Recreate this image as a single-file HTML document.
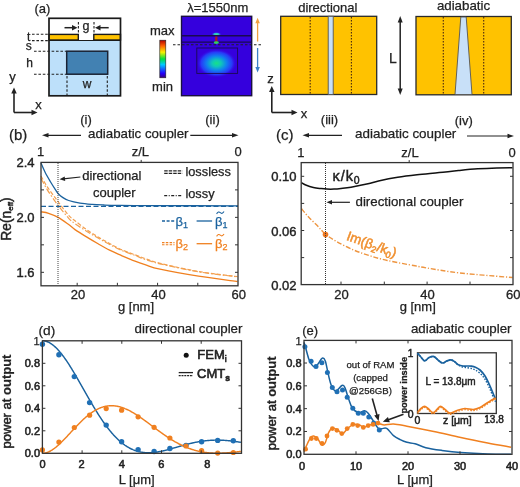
<!DOCTYPE html>
<html><head><meta charset="utf-8"><style>
html,body{margin:0;padding:0;background:#fff;overflow:hidden;width:520px;height:487px;}
svg{display:block;font-family:"Liberation Sans",sans-serif;will-change:transform;}
</style></head><body>
<svg width="520" height="487" viewBox="0 0 520 487">
<rect width="520" height="487" fill="#fff"/>
<text x="34.5" y="12.5" font-size="13" text-anchor="start" fill="#222" stroke="#222" stroke-width="0.25" font-weight="normal" >(a)</text>
<rect x="49" y="18.3" width="71.5" height="77.5" fill="#fff" stroke="none"/>
<rect x="49" y="40.5" width="71.5" height="55.3" fill="#bde0fa"/>
<rect x="49" y="34.4" width="29.3" height="5.6" fill="#ffc200" stroke="#1a1a1a" stroke-width="1.4"/>
<rect x="93.8" y="34.4" width="26.7" height="5.6" fill="#ffc200" stroke="#1a1a1a" stroke-width="1.4"/>
<line x1="49" y1="40.5" x2="120.5" y2="40.5" stroke="#1a1a1a" stroke-width="1.2" />
<rect x="66.7" y="51.2" width="41" height="23" fill="#4281b2" stroke="#1a2233" stroke-width="1.5"/>
<rect x="49" y="18.3" width="71.5" height="77.5" fill="none" stroke="#1a1a1a" stroke-width="1.7"/>
<line x1="32" y1="34.2" x2="48" y2="34.2" stroke="#222" stroke-width="1.1" stroke-dasharray="2.6,1.8"/>
<line x1="32" y1="40.6" x2="48" y2="40.6" stroke="#222" stroke-width="1.1" stroke-dasharray="2.6,1.8"/>
<line x1="34" y1="51.3" x2="66" y2="51.3" stroke="#222" stroke-width="1.1" stroke-dasharray="2.6,1.8"/>
<line x1="34" y1="74.2" x2="66" y2="74.2" stroke="#222" stroke-width="1.1" stroke-dasharray="2.6,1.8"/>
<line x1="67" y1="76" x2="67" y2="95" stroke="#222" stroke-width="1.1" stroke-dasharray="2.6,1.8"/>
<line x1="107.3" y1="76" x2="107.3" y2="95" stroke="#222" stroke-width="1.1" stroke-dasharray="2.6,1.8"/>
<line x1="78.4" y1="22" x2="78.4" y2="33.5" stroke="#222" stroke-width="1.1" stroke-dasharray="2.5,1.5"/>
<line x1="94.0" y1="22" x2="94.0" y2="33.5" stroke="#222" stroke-width="1.1" stroke-dasharray="2.5,1.5"/>
<line x1="64.5" y1="27.7" x2="73.65" y2="27.7" stroke="#222" stroke-width="1.5" />
<polygon points="77.50,27.70 72.00,30.45 72.00,24.95" fill="#222"/>
<line x1="108.7" y1="27.7" x2="98.85" y2="27.7" stroke="#222" stroke-width="1.5" />
<polygon points="95.00,27.70 100.50,24.95 100.50,30.45" fill="#222"/>
<text x="85.9" y="30.2" font-size="12.5" text-anchor="middle" fill="#222" stroke="#222" stroke-width="0.25" font-weight="normal" >g</text>
<text x="28.6" y="40.8" font-size="12" text-anchor="middle" fill="#222" stroke="#222" stroke-width="0.25" font-weight="normal" >t</text>
<text x="28.8" y="50.2" font-size="12" text-anchor="middle" fill="#222" stroke="#222" stroke-width="0.25" font-weight="normal" >s</text>
<text x="29.5" y="66.8" font-size="12" text-anchor="middle" fill="#222" stroke="#222" stroke-width="0.25" font-weight="normal" >h</text>
<text x="87" y="87.5" font-size="12" text-anchor="middle" fill="#222" stroke="#222" stroke-width="0.25" font-weight="normal" >w</text>
<line x1="14" y1="112.5" x2="14.0" y2="91.7" stroke="#222" stroke-width="1.6" />
<polygon points="14.00,87.50 16.75,93.50 11.25,93.50" fill="#222"/>
<line x1="14" y1="112.5" x2="33.3" y2="112.5" stroke="#222" stroke-width="1.6" />
<polygon points="37.50,112.50 31.50,115.25 31.50,109.75" fill="#222"/>
<text x="12.5" y="81" font-size="13" text-anchor="middle" fill="#222" stroke="#222" stroke-width="0.25" font-weight="normal" >y</text>
<text x="38.5" y="108.5" font-size="13" text-anchor="middle" fill="#222" stroke="#222" stroke-width="0.25" font-weight="normal" >x</text>
<defs>
<linearGradient id="jet" x1="0" y1="1" x2="0" y2="0">
<stop offset="0" stop-color="#3a007a"/>
<stop offset="0.12" stop-color="#2200ff"/>
<stop offset="0.35" stop-color="#00c8ff"/>
<stop offset="0.5" stop-color="#00e040"/>
<stop offset="0.68" stop-color="#f8f000"/>
<stop offset="0.85" stop-color="#ff6000"/>
<stop offset="1" stop-color="#b00000"/>
</linearGradient>
<radialGradient id="glow" cx="0.5" cy="0.5" r="0.5">
<stop offset="0" stop-color="#18e088"/>
<stop offset="0.22" stop-color="#10c8b8"/>
<stop offset="0.5" stop-color="#1080f0"/>
<stop offset="0.78" stop-color="#2838f8"/>
<stop offset="1" stop-color="#3500dd" stop-opacity="0"/>
</radialGradient>
<radialGradient id="glow2" cx="0.5" cy="0.5" r="0.5">
<stop offset="0" stop-color="#50f080"/>
<stop offset="0.5" stop-color="#20b0e0"/>
<stop offset="1" stop-color="#3a1ee0" stop-opacity="0"/>
</radialGradient>
</defs>
<rect x="181.5" y="16.3" width="70.2" height="79.4" fill="#3500dd" stroke="#1a1040" stroke-width="1.4"/>
<ellipse cx="216.6" cy="63.3" rx="20" ry="14.5" fill="url(#glow)"/>
<ellipse cx="216.4" cy="34.3" rx="5" ry="2.3" fill="url(#glow2)"/>
<line x1="181.5" y1="35.8" x2="251.7" y2="35.8" stroke="#1a0a50" stroke-width="1.5" />
<line x1="181.5" y1="42.2" x2="251.7" y2="42.2" stroke="#1a0a50" stroke-width="1.3" />
<rect x="196.8" y="48" width="40.8" height="25.4" fill="none" stroke="#1a0a50" stroke-width="0.9"/>
<rect x="215.2" y="36.6" width="2.2" height="5.4" fill="#b01818"/>
<ellipse cx="216.3" cy="42.6" rx="2.6" ry="1.3" fill="#30d060"/>
<line x1="173" y1="44.8" x2="262" y2="44.8" stroke="#222" stroke-width="1.1" stroke-dasharray="2.5,2"/>
<rect x="159.8" y="40.2" width="6" height="37.6" fill="url(#jet)" stroke="#222" stroke-width="0.6"/>
<text x="162.2" y="34.6" font-size="13" text-anchor="middle" fill="#222" stroke="#222" stroke-width="0.25" font-weight="normal" >max</text>
<text x="162.6" y="90.5" font-size="13" text-anchor="middle" fill="#222" stroke="#222" stroke-width="0.25" font-weight="normal" >min</text>
<text x="217.7" y="11.5" font-size="13" text-anchor="middle" fill="#222" stroke="#222" stroke-width="0.25" font-weight="normal" >λ=1550nm</text>
<line x1="257.6" y1="41.5" x2="257.6" y2="21.65" stroke="#f0a040" stroke-width="1.3" />
<polygon points="257.60,17.80 259.85,23.30 255.35,23.30" fill="#f0a040"/>
<line x1="257.6" y1="48" x2="257.6" y2="68.65" stroke="#3c80c8" stroke-width="1.3" />
<polygon points="257.60,72.50 255.35,67.00 259.85,67.00" fill="#3c80c8"/>
<text x="86" y="123.5" font-size="13" text-anchor="middle" fill="#222" stroke="#222" stroke-width="0.25" font-weight="normal" >(i)</text>
<text x="212.5" y="123.5" font-size="13" text-anchor="middle" fill="#222" stroke="#222" stroke-width="0.25" font-weight="normal" >(ii)</text>
<rect x="280.7" y="16.3" width="96" height="78.2" fill="#ffc200" stroke="#2a2a2a" stroke-width="1.3"/>
<rect x="328.2" y="16.3" width="5" height="78.2" fill="#c8e0f8" stroke="#555" stroke-width="0.9"/>
<line x1="310.2" y1="17" x2="310.2" y2="94" stroke="#4a2a10" stroke-width="1.1" stroke-dasharray="1.6,1.4"/>
<line x1="351.4" y1="17" x2="351.4" y2="94" stroke="#4a2a10" stroke-width="1.1" stroke-dasharray="1.6,1.4"/>
<text x="327.8" y="11.5" font-size="13" text-anchor="middle" fill="#222" stroke="#222" stroke-width="0.25" font-weight="normal" >directional</text>
<line x1="271.8" y1="112.5" x2="271.8" y2="90.2" stroke="#222" stroke-width="1.6" />
<polygon points="271.80,86.00 274.55,92.00 269.05,92.00" fill="#222"/>
<line x1="271.8" y1="112.5" x2="293.3" y2="112.5" stroke="#222" stroke-width="1.6" />
<polygon points="297.50,112.50 291.50,115.25 291.50,109.75" fill="#222"/>
<text x="270.5" y="82.5" font-size="13" text-anchor="middle" fill="#222" stroke="#222" stroke-width="0.25" font-weight="normal" >z</text>
<text x="304" y="117.5" font-size="13" text-anchor="middle" fill="#222" stroke="#222" stroke-width="0.25" font-weight="normal" >x</text>
<text x="329.5" y="123.5" font-size="13" text-anchor="middle" fill="#222" stroke="#222" stroke-width="0.25" font-weight="normal" >(iii)</text>
<rect x="416" y="16.5" width="95.3" height="78.3" fill="#ffc200" stroke="#2a2a2a" stroke-width="1.3"/>
<polygon points="460.8,17 466.2,17 472,94.5 455,94.5" fill="#c8e0f8" stroke="#555" stroke-width="0.9"/>
<line x1="443.3" y1="17" x2="443.3" y2="94.5" stroke="#4a2a10" stroke-width="1.1" stroke-dasharray="1.6,1.4"/>
<line x1="483.7" y1="17" x2="483.7" y2="94.5" stroke="#4a2a10" stroke-width="1.1" stroke-dasharray="1.6,1.4"/>
<text x="463.5" y="9.5" font-size="13.3" text-anchor="middle" fill="#222" stroke="#222" stroke-width="0.25" font-weight="normal" >adiabatic</text>
<line x1="400.2" y1="56" x2="400.2" y2="20.55" stroke="#222" stroke-width="1.5" />
<polygon points="400.20,16.00 402.70,22.50 397.70,22.50" fill="#222"/>
<line x1="400.2" y1="56" x2="400.2" y2="90.45" stroke="#222" stroke-width="1.5" />
<polygon points="400.20,95.00 397.70,88.50 402.70,88.50" fill="#222"/>
<text x="392.8" y="63" font-size="14" text-anchor="middle" fill="#222" stroke="#222" stroke-width="0.25" font-weight="normal" >L</text>
<text x="463.8" y="124.5" font-size="13" text-anchor="middle" fill="#222" stroke="#222" stroke-width="0.25" font-weight="normal" >(iv)</text>
<text x="9" y="140.3" font-size="15" text-anchor="start" fill="#222" stroke="#222" stroke-width="0.25" font-weight="normal" >(b)</text>
<line x1="81" y1="135.3" x2="46.55" y2="135.3" stroke="#222" stroke-width="1.2" />
<polygon points="42.00,135.30 48.50,133.05 48.50,137.55" fill="#222"/>
<line x1="190.3" y1="135.3" x2="233.95" y2="135.3" stroke="#222" stroke-width="1.2" />
<polygon points="238.50,135.30 232.00,137.55 232.00,133.05" fill="#222"/>
<text x="138.3" y="137.8" font-size="13.3" text-anchor="middle" fill="#222" stroke="#222" stroke-width="0.25" font-weight="normal" >adiabatic coupler</text>
<text x="40.6" y="155.8" font-size="13" text-anchor="middle" fill="#222" stroke="#222" stroke-width="0.25" font-weight="normal" >1</text>
<text x="140.3" y="156.2" font-size="13" text-anchor="middle" fill="#222" stroke="#222" stroke-width="0.25" font-weight="normal" >z/L</text>
<text x="238" y="155.5" font-size="13" text-anchor="middle" fill="#222" stroke="#222" stroke-width="0.25" font-weight="normal" >0</text>
<path d="M41.00,163.10 C41.68,164.63 43.55,169.23 45.10,172.30 C46.65,175.37 48.58,178.60 50.30,181.50 C52.02,184.40 54.07,187.65 55.40,189.70 C56.73,191.75 57.10,192.52 58.30,193.80 C59.50,195.08 60.87,196.28 62.60,197.40 C64.33,198.52 65.80,199.55 68.70,200.50 C71.60,201.45 76.08,202.45 80.00,203.10 C83.92,203.75 88.25,204.08 92.20,204.40 C96.15,204.72 99.40,204.83 103.70,205.00 C108.00,205.17 110.28,205.28 118.00,205.40 C125.72,205.52 130.00,205.63 150.00,205.70 C170.00,205.77 223.33,205.78 238.00,205.80" stroke="#1a629e" stroke-width="1.3" fill="none" />
<line x1="41" y1="206.3" x2="238" y2="206.3" stroke="#1a629e" stroke-width="1.2" stroke-dasharray="5,2.5"/>
<path d="M41.00,176.10 C42.03,177.87 44.97,183.27 47.20,186.70 C49.43,190.13 52.48,194.07 54.40,196.70 C56.32,199.33 56.32,199.38 58.70,202.50 C61.08,205.62 65.98,212.35 68.70,215.40 C71.42,218.45 72.03,218.45 75.00,220.80 C77.97,223.15 82.65,226.80 86.50,229.50 C90.35,232.20 94.25,234.67 98.10,237.00 C101.95,239.33 105.75,241.42 109.60,243.50 C113.45,245.58 116.97,247.62 121.20,249.50 C125.43,251.38 130.92,253.25 135.00,254.80 C139.08,256.35 141.53,257.38 145.70,258.80 C149.87,260.22 151.20,261.18 160.00,263.30 C168.80,265.42 185.58,269.28 198.50,271.50 C211.42,273.72 231.00,275.75 237.50,276.60" stroke="#f3a050" stroke-width="1.2" fill="none" stroke-dasharray="4,2"/>
<path d="M41.00,178.50 C42.03,180.35 44.97,185.97 47.20,189.60 C49.43,193.23 52.48,197.55 54.40,200.30 C56.32,203.05 56.32,203.10 58.70,206.10 C61.08,209.10 65.98,215.37 68.70,218.30 C71.42,221.23 72.03,221.55 75.00,223.70 C77.97,225.85 82.65,228.80 86.50,231.20 C90.35,233.60 94.25,235.90 98.10,238.10 C101.95,240.30 105.75,242.38 109.60,244.40 C113.45,246.42 116.97,248.37 121.20,250.20 C125.43,252.03 130.92,253.83 135.00,255.40 C139.08,256.97 141.53,258.20 145.70,259.60 C149.87,261.00 151.20,261.77 160.00,263.80 C168.80,265.83 185.58,269.63 198.50,271.80 C211.42,273.97 231.00,275.97 237.50,276.80" stroke="#f3a050" stroke-width="1.2" fill="none" stroke-dasharray="6,2,1.5,2"/>
<path d="M41.00,211.80 C42.27,212.05 45.65,212.33 48.60,213.30 C51.55,214.27 55.35,215.72 58.70,217.60 C62.05,219.48 65.98,222.60 68.70,224.60 C71.42,226.60 72.03,227.55 75.00,229.60 C77.97,231.65 82.65,234.53 86.50,236.90 C90.35,239.27 94.25,241.58 98.10,243.80 C101.95,246.02 105.75,248.27 109.60,250.20 C113.45,252.13 116.97,253.57 121.20,255.40 C125.43,257.23 130.92,259.62 135.00,261.20 C139.08,262.78 141.53,263.57 145.70,264.90 C149.87,266.23 151.20,267.32 160.00,269.20 C168.80,271.08 185.58,274.15 198.50,276.20 C211.42,278.25 231.00,280.62 237.50,281.50" stroke="#f08020" stroke-width="1.3" fill="none" />
<line x1="58" y1="163" x2="58" y2="285" stroke="#444" stroke-width="1.0" stroke-dasharray="1,1"/>
<rect x="41" y="162.4" width="197" height="123.4" fill="none" stroke="#333" stroke-width="1.3"/>
<line x1="41" y1="189.87999999999997" x2="44" y2="189.87999999999997" stroke="#333" stroke-width="1" />
<line x1="238" y1="189.87999999999997" x2="235" y2="189.87999999999997" stroke="#333" stroke-width="1" />
<line x1="41" y1="217.35999999999999" x2="44" y2="217.35999999999999" stroke="#333" stroke-width="1" />
<line x1="238" y1="217.35999999999999" x2="235" y2="217.35999999999999" stroke="#333" stroke-width="1" />
<line x1="41" y1="244.83999999999997" x2="44" y2="244.83999999999997" stroke="#333" stroke-width="1" />
<line x1="238" y1="244.83999999999997" x2="235" y2="244.83999999999997" stroke="#333" stroke-width="1" />
<line x1="41" y1="272.32" x2="44" y2="272.32" stroke="#333" stroke-width="1" />
<line x1="238" y1="272.32" x2="235" y2="272.32" stroke="#333" stroke-width="1" />
<line x1="77.18367346938776" y1="285.8" x2="77.18367346938776" y2="282.8" stroke="#333" stroke-width="1" />
<line x1="117.38775510204081" y1="285.8" x2="117.38775510204081" y2="282.8" stroke="#333" stroke-width="1" />
<line x1="157.59183673469386" y1="285.8" x2="157.59183673469386" y2="282.8" stroke="#333" stroke-width="1" />
<line x1="197.79591836734693" y1="285.8" x2="197.79591836734693" y2="282.8" stroke="#333" stroke-width="1" />
<line x1="141.2" y1="162.4" x2="141.2" y2="159.9" stroke="#333" stroke-width="1" />
<text x="34.6" y="167.0" font-size="13" text-anchor="end" fill="#222" stroke="#222" stroke-width="0.4" font-weight="normal" >2.4</text>
<text x="34.6" y="221.95999999999998" font-size="13" text-anchor="end" fill="#222" stroke="#222" stroke-width="0.4" font-weight="normal" >2.0</text>
<text x="34.6" y="276.92" font-size="13" text-anchor="end" fill="#222" stroke="#222" stroke-width="0.4" font-weight="normal" >1.6</text>
<text x="77.98367346938775" y="299.2" font-size="13" text-anchor="middle" fill="#222" stroke="#222" stroke-width="0.3" font-weight="normal" >20</text>
<text x="158.39183673469387" y="299.2" font-size="13" text-anchor="middle" fill="#222" stroke="#222" stroke-width="0.3" font-weight="normal" >40</text>
<text x="238.8" y="299.2" font-size="13" text-anchor="middle" fill="#222" stroke="#222" stroke-width="0.3" font-weight="normal" >60</text>
<text x="136" y="311" font-size="13" text-anchor="middle" fill="#222" stroke="#222" stroke-width="0.25" font-weight="normal" >g [nm]</text>
<text transform="translate(10.6,219) rotate(-90)" font-size="13.8" text-anchor="middle" fill="#222" stroke="#222" stroke-width="0.45">Re(n<tspan font-size="8" dy="2">eff</tspan><tspan dy="-2">)</tspan></text>
<line x1="80.4" y1="177" x2="63.32689686531183" y2="178.87885823970254" stroke="#222" stroke-width="1.2" />
<polygon points="59.50,179.30 64.72,176.46 65.21,180.93" fill="#222"/>
<text x="111.8" y="180.2" font-size="13" text-anchor="middle" fill="#222" stroke="#222" stroke-width="0.25" font-weight="normal" >directional</text>
<text x="114.3" y="197" font-size="13" text-anchor="middle" fill="#222" stroke="#222" stroke-width="0.25" font-weight="normal" >coupler</text>
<line x1="164.2" y1="170.9" x2="182.4" y2="170.9" stroke="#222" stroke-width="1.25" stroke-dasharray="3.5,1"/>
<line x1="164.2" y1="173.3" x2="182.4" y2="173.3" stroke="#222" stroke-width="1.25" stroke-dasharray="3.5,1"/>
<text x="185.4" y="175.8" font-size="12.8" text-anchor="start" fill="#222" stroke="#222" stroke-width="0.25" font-weight="normal" >lossless</text>
<line x1="164.2" y1="195.6" x2="181.4" y2="195.6" stroke="#222" stroke-width="1.2" stroke-dasharray="3,1.5,1,1.5"/>
<text x="185.4" y="198.2" font-size="12.8" text-anchor="start" fill="#222" stroke="#222" stroke-width="0.25" font-weight="normal" >lossy</text>
<line x1="162" y1="221" x2="174.5" y2="221" stroke="#1a629e" stroke-width="1.4" stroke-dasharray="3,1.6"/>
<text x="175.6" y="225.5" font-size="13" text-anchor="start" fill="#1a629e" stroke="#1a629e" stroke-width="0.25" font-weight="normal" >β<tspan font-size="9" dy="2">1</tspan></text>
<line x1="196.6" y1="221" x2="212.1" y2="221" stroke="#1a629e" stroke-width="1.3" />
<text x="214.9" y="225.5" font-size="13" text-anchor="start" fill="#1a629e" stroke="#1a629e" stroke-width="0.25" font-weight="normal" >β<tspan font-size="9" dy="2">1</tspan></text>
<path d="M216.6,213.9 Q218.4,210.9 220.3,212.7 T224,211.5" stroke="#1a629e" stroke-width="1.1" fill="none" />
<line x1="162" y1="242.6" x2="174.5" y2="242.6" stroke="#f08020" stroke-width="1.1" stroke-dasharray="2.5,1.3"/>
<line x1="162" y1="244.8" x2="174.5" y2="244.8" stroke="#f08020" stroke-width="1.1" stroke-dasharray="2.5,1.3"/>
<text x="175.6" y="248" font-size="13" text-anchor="start" fill="#f08020" stroke="#f08020" stroke-width="0.25" font-weight="normal" >β<tspan font-size="9" dy="2">2</tspan></text>
<line x1="196.6" y1="243.7" x2="212.1" y2="243.7" stroke="#f08020" stroke-width="1.3" />
<text x="214.9" y="248" font-size="13" text-anchor="start" fill="#f08020" stroke="#f08020" stroke-width="0.25" font-weight="normal" >β<tspan font-size="9" dy="2">2</tspan></text>
<path d="M216.6,236.4 Q218.4,233.4 220.3,235.2 T224,234" stroke="#f08020" stroke-width="1.1" fill="none" />
<text x="276" y="140.3" font-size="15" text-anchor="start" fill="#222" stroke="#222" stroke-width="0.25" font-weight="normal" >(c)</text>
<line x1="342" y1="135.3" x2="307.05" y2="135.3" stroke="#222" stroke-width="1.2" />
<polygon points="302.50,135.30 309.00,133.05 309.00,137.55" fill="#222"/>
<line x1="467" y1="136" x2="509.45" y2="136.0" stroke="#222" stroke-width="1.2" />
<polygon points="514.00,136.00 507.50,138.25 507.50,133.75" fill="#222"/>
<text x="405.7" y="138" font-size="13.4" text-anchor="middle" fill="#222" stroke="#222" stroke-width="0.25" font-weight="normal" >adiabatic coupler</text>
<text x="300.8" y="157" font-size="13" text-anchor="middle" fill="#222" stroke="#222" stroke-width="0.25" font-weight="normal" >1</text>
<text x="410" y="157.2" font-size="13" text-anchor="middle" fill="#222" stroke="#222" stroke-width="0.25" font-weight="normal" >z/L</text>
<text x="512" y="157.2" font-size="13" text-anchor="middle" fill="#222" stroke="#222" stroke-width="0.25" font-weight="normal" >0</text>
<path d="M301.50,182.70 C302.20,183.08 303.72,184.20 305.70,185.00 C307.68,185.80 310.83,186.90 313.40,187.50 C315.97,188.10 318.83,188.33 321.10,188.60 C323.37,188.87 324.85,189.02 327.00,189.10 C329.15,189.18 331.67,189.20 334.00,189.10 C336.33,189.00 338.17,188.82 341.00,188.50 C343.83,188.18 346.50,187.98 351.00,187.20 C355.50,186.42 363.42,184.83 368.00,183.80 C372.58,182.77 373.55,182.08 378.50,181.00 C383.45,179.92 391.28,178.33 397.70,177.30 C404.12,176.27 410.08,175.58 417.00,174.80 C423.92,174.02 432.28,173.32 439.20,172.60 C446.12,171.88 452.08,171.13 458.50,170.50 C464.92,169.87 471.30,169.23 477.70,168.80 C484.10,168.37 491.10,168.08 496.90,167.90 C502.70,167.72 509.90,167.73 512.50,167.70" stroke="#111" stroke-width="1.5" fill="none" />
<path d="M301.50,208.80 C302.72,210.22 306.03,214.35 308.80,217.30 C311.57,220.25 315.32,223.68 318.10,226.50 C320.88,229.32 322.43,231.70 325.50,234.20 C328.57,236.70 331.97,238.93 336.50,241.50 C341.03,244.07 347.32,247.28 352.70,249.60 C358.08,251.92 363.03,253.58 368.80,255.40 C374.57,257.22 379.60,258.77 387.30,260.50 C395.00,262.23 408.38,264.55 415.00,265.80 C421.62,267.05 419.50,266.80 427.00,268.00 C434.50,269.20 445.75,271.42 460.00,273.00 C474.25,274.58 503.75,276.75 512.50,277.50" stroke="#ee9540" stroke-width="1.4" fill="none" stroke-dasharray="5,1.8,1.2,1.8"/>
<circle cx="325.5" cy="234.6" r="2.8" fill="#f07820"/>
<line x1="325.5" y1="163" x2="325.5" y2="284" stroke="#333" stroke-width="1.0" stroke-dasharray="1,1"/>
<rect x="301.2" y="162.6" width="211.8" height="122.00000000000003" fill="none" stroke="#333" stroke-width="1.3"/>
<line x1="301.2" y1="176.3" x2="304.2" y2="176.3" stroke="#333" stroke-width="1" />
<line x1="513" y1="176.3" x2="510" y2="176.3" stroke="#333" stroke-width="1" />
<line x1="301.2" y1="203.4" x2="304.2" y2="203.4" stroke="#333" stroke-width="1" />
<line x1="513" y1="203.4" x2="510" y2="203.4" stroke="#333" stroke-width="1" />
<line x1="301.2" y1="230.50000000000003" x2="304.2" y2="230.50000000000003" stroke="#333" stroke-width="1" />
<line x1="513" y1="230.50000000000003" x2="510" y2="230.50000000000003" stroke="#333" stroke-width="1" />
<line x1="301.2" y1="257.6" x2="304.2" y2="257.6" stroke="#333" stroke-width="1" />
<line x1="513" y1="257.6" x2="510" y2="257.6" stroke="#333" stroke-width="1" />
<line x1="341" y1="284.6" x2="341" y2="281.6" stroke="#333" stroke-width="1" />
<line x1="384.3" y1="284.6" x2="384.3" y2="281.6" stroke="#333" stroke-width="1" />
<line x1="427.1" y1="284.6" x2="427.1" y2="281.6" stroke="#333" stroke-width="1" />
<line x1="470" y1="284.6" x2="470" y2="281.6" stroke="#333" stroke-width="1" />
<line x1="409.2" y1="162.6" x2="409.2" y2="160.1" stroke="#333" stroke-width="1" />
<text x="296.5" y="181.3" font-size="13" text-anchor="end" fill="#222" stroke="#222" stroke-width="0.4" font-weight="normal" >0.10</text>
<text x="296.5" y="235.50000000000003" font-size="13" text-anchor="end" fill="#222" stroke="#222" stroke-width="0.4" font-weight="normal" >0.06</text>
<text x="296.5" y="289.70000000000005" font-size="13" text-anchor="end" fill="#222" stroke="#222" stroke-width="0.4" font-weight="normal" >0.02</text>
<text x="341.5" y="299.2" font-size="13" text-anchor="middle" fill="#222" stroke="#222" stroke-width="0.3" font-weight="normal" >20</text>
<text x="427.6" y="299.2" font-size="13" text-anchor="middle" fill="#222" stroke="#222" stroke-width="0.3" font-weight="normal" >40</text>
<text x="513.2" y="299.2" font-size="13" text-anchor="middle" fill="#222" stroke="#222" stroke-width="0.3" font-weight="normal" >60</text>
<text x="417.7" y="311" font-size="13" text-anchor="middle" fill="#222" stroke="#222" stroke-width="0.25" font-weight="normal" >g [nm]</text>
<text x="332.6" y="181.2" font-size="14.5" text-anchor="start" fill="#222" stroke="#222" stroke-width="0.45" font-weight="normal" letter-spacing="0.9" >κ/k<tspan font-size="10.5" dy="3">0</tspan></text>
<line x1="349.9" y1="202.3" x2="330.35" y2="202.3" stroke="#222" stroke-width="1.2" />
<polygon points="326.50,202.30 332.00,200.05 332.00,204.55" fill="#222"/>
<text x="355.5" y="206" font-size="13.3" text-anchor="start" fill="#222" stroke="#222" stroke-width="0.25" font-weight="normal" >directional coupler</text>
<text transform="translate(345.8,239.8) rotate(20)" font-size="13.4" fill="#f09030" stroke="#f09030" stroke-width="0.5">Im(β<tspan font-size="9" dy="2.5">2</tspan><tspan dy="-2.5">/k</tspan><tspan font-size="9" dy="2.5">0</tspan><tspan dy="-2.5">)</tspan></text>
<text x="38.5" y="334.8" font-size="13.7" text-anchor="start" fill="#222" stroke="#222" stroke-width="0.25" font-weight="normal" >(d)</text>
<text x="188.5" y="332.5" font-size="13.3" text-anchor="middle" fill="#222" stroke="#222" stroke-width="0.25" font-weight="normal" >directional coupler</text>
<path d="M42.40,340.80 L42.90,340.81 L43.39,340.84 L43.89,340.89 L44.39,340.96 L44.89,341.05 L45.38,341.16 L45.88,341.29 L46.38,341.44 L46.88,341.60 L47.37,341.79 L47.87,341.99 L48.37,342.21 L48.87,342.45 L49.36,342.71 L49.86,342.98 L50.36,343.28 L50.86,343.59 L51.35,343.91 L51.85,344.26 L52.35,344.62 L52.85,344.99 L53.34,345.38 L53.84,345.79 L54.34,346.22 L54.84,346.66 L55.33,347.11 L55.83,347.58 L56.33,348.07 L56.83,348.57 L57.32,349.08 L57.82,349.61 L58.32,350.15 L58.82,350.70 L59.31,351.27 L59.81,351.85 L60.31,352.44 L60.81,353.05 L61.30,353.67 L61.80,354.30 L62.30,354.94 L62.80,355.59 L63.29,356.26 L63.79,356.93 L64.29,357.61 L64.79,358.31 L65.28,359.02 L65.78,359.73 L66.28,360.45 L66.78,361.19 L67.27,361.93 L67.77,362.68 L68.27,363.44 L68.77,364.21 L69.26,364.98 L69.76,365.76 L70.26,366.55 L70.76,367.35 L71.25,368.15 L71.75,368.96 L72.25,369.77 L72.75,370.59 L73.24,371.42 L73.74,372.25 L74.24,373.09 L74.74,373.93 L75.23,374.77 L75.73,375.62 L76.23,376.48 L76.73,377.33 L77.22,378.19 L77.72,379.05 L78.22,379.92 L78.72,380.79 L79.21,381.66 L79.71,382.53 L80.21,383.40 L80.71,384.28 L81.20,385.16 L81.70,386.03 L82.20,386.91 L82.70,387.79 L83.19,388.67 L83.69,389.55 L84.19,390.43 L84.69,391.31 L85.18,392.18 L85.68,393.06 L86.18,393.93 L86.68,394.81 L87.17,395.68 L87.67,396.55 L88.17,397.42 L88.67,398.29 L89.16,399.15 L89.66,400.01 L90.16,400.87 L90.66,401.72 L91.15,402.57 L91.65,403.42 L92.15,404.27 L92.65,405.11 L93.14,405.94 L93.64,406.78 L94.14,407.60 L94.64,408.43 L95.13,409.25 L95.63,410.06 L96.13,410.87 L96.63,411.67 L97.12,412.47 L97.62,413.26 L98.12,414.05 L98.62,414.83 L99.11,415.60 L99.61,416.37 L100.11,417.13 L100.61,417.89 L101.10,418.64 L101.60,419.38 L102.10,420.12 L102.60,420.85 L103.09,421.57 L103.59,422.28 L104.09,422.99 L104.59,423.69 L105.08,424.38 L105.58,425.07 L106.08,425.75 L106.58,426.41 L107.07,427.08 L107.57,427.73 L108.07,428.38 L108.57,429.01 L109.06,429.64 L109.56,430.27 L110.06,430.88 L110.56,431.48 L111.05,432.08 L111.55,432.67 L112.05,433.25 L112.55,433.82 L113.04,434.38 L113.54,434.93 L114.04,435.48 L114.54,436.02 L115.03,436.54 L115.53,437.06 L116.03,437.57 L116.53,438.07 L117.02,438.56 L117.52,439.05 L118.02,439.52 L118.52,439.99 L119.01,440.44 L119.51,440.89 L120.01,441.33 L120.51,441.76 L121.00,442.18 L121.50,442.59 L122.00,443.00 L122.50,443.39 L122.99,443.78 L123.49,444.15 L123.99,444.52 L124.49,444.88 L124.98,445.23 L125.48,445.57 L125.98,445.90 L126.48,446.23 L126.97,446.54 L127.47,446.85 L127.97,447.15 L128.47,447.44 L128.96,447.72 L129.46,447.99 L129.96,448.26 L130.46,448.51 L130.95,448.76 L131.45,449.00 L131.95,449.23 L132.45,449.45 L132.94,449.67 L133.44,449.88 L133.94,450.07 L134.44,450.27 L134.93,450.45 L135.43,450.62 L135.93,450.79 L136.43,450.95 L136.92,451.11 L137.42,451.25 L137.92,451.39 L138.42,451.52 L138.91,451.64 L139.41,451.76 L139.91,451.87 L140.41,451.97 L140.90,452.07 L141.40,452.16 L141.90,452.24 L142.40,452.31 L142.89,452.38 L143.39,452.45 L143.89,452.50 L144.39,452.55 L144.88,452.60 L145.38,452.64 L145.88,452.67 L146.38,452.69 L146.87,452.71 L147.37,452.73 L147.87,452.74 L148.37,452.74 L148.86,452.74 L149.36,452.73 L149.86,452.72 L150.36,452.70 L150.85,452.68 L151.35,452.65 L151.85,452.62 L152.35,452.59 L152.84,452.55 L153.34,452.50 L153.84,452.45 L154.34,452.40 L154.83,452.34 L155.33,452.28 L155.83,452.21 L156.33,452.14 L156.82,452.07 L157.32,451.99 L157.82,451.91 L158.32,451.82 L158.81,451.74 L159.31,451.64 L159.81,451.55 L160.31,451.45 L160.80,451.35 L161.30,451.25 L161.80,451.14 L162.30,451.04 L162.79,450.93 L163.29,450.81 L163.79,450.70 L164.29,450.58 L164.78,450.46 L165.28,450.34 L165.78,450.21 L166.28,450.09 L166.77,449.96 L167.27,449.83 L167.77,449.70 L168.27,449.57 L168.76,449.43 L169.26,449.30 L169.76,449.16 L170.26,449.03 L170.75,448.89 L171.25,448.75 L171.75,448.61 L172.25,448.47 L172.74,448.33 L173.24,448.18 L173.74,448.04 L174.24,447.90 L174.73,447.76 L175.23,447.61 L175.73,447.47 L176.23,447.32 L176.72,447.18 L177.22,447.04 L177.72,446.89 L178.22,446.75 L178.71,446.60 L179.21,446.46 L179.71,446.32 L180.21,446.18 L180.70,446.03 L181.20,445.89 L181.70,445.75 L182.20,445.61 L182.69,445.47 L183.19,445.33 L183.69,445.20 L184.19,445.06 L184.68,444.93 L185.18,444.79 L185.68,444.66 L186.18,444.53 L186.67,444.39 L187.17,444.27 L187.67,444.14 L188.17,444.01 L188.66,443.89 L189.16,443.76 L189.66,443.64 L190.16,443.52 L190.65,443.40 L191.15,443.28 L191.65,443.17 L192.15,443.05 L192.64,442.94 L193.14,442.83 L193.64,442.72 L194.14,442.62 L194.63,442.51 L195.13,442.41 L195.63,442.31 L196.13,442.21 L196.62,442.11 L197.12,442.02 L197.62,441.93 L198.12,441.84 L198.61,441.75 L199.11,441.66 L199.61,441.58 L200.11,441.50 L200.60,441.42 L201.10,441.34 L201.60,441.26 L202.10,441.19 L202.59,441.12 L203.09,441.05 L203.59,440.99 L204.09,440.93 L204.58,440.87 L205.08,440.81 L205.58,440.75 L206.08,440.70 L206.57,440.65 L207.07,440.60 L207.57,440.55 L208.07,440.51 L208.56,440.47 L209.06,440.43 L209.56,440.39 L210.06,440.35 L210.55,440.32 L211.05,440.29 L211.55,440.27 L212.05,440.24 L212.54,440.22 L213.04,440.20 L213.54,440.18 L214.04,440.17 L214.53,440.15 L215.03,440.14 L215.53,440.13 L216.03,440.13 L216.52,440.12 L217.02,440.12 L217.52,440.12 L218.02,440.13 L218.51,440.13 L219.01,440.14 L219.51,440.15 L220.01,440.16 L220.50,440.18 L221.00,440.19 L221.50,440.21 L222.00,440.23 L222.49,440.26 L222.99,440.28 L223.49,440.31 L223.99,440.34 L224.48,440.37 L224.98,440.40 L225.48,440.44 L225.98,440.48 L226.47,440.51 L226.97,440.56 L227.47,440.60 L227.97,440.64 L228.46,440.69 L228.96,440.74 L229.46,440.79 L229.96,440.84 L230.45,440.90 L230.95,440.95 L231.45,441.01 L231.95,441.07 L232.44,441.13 L232.94,441.19 L233.44,441.25 L233.94,441.32 L234.43,441.38 L234.93,441.45 L235.43,441.52 L235.93,441.59 L236.42,441.67 L236.92,441.74 L237.42,441.81 L237.92,441.89 L238.41,441.97 L238.91,442.05 L239.41,442.13 L239.91,442.21 L240.40,442.29 L240.90,442.37" stroke="#1a629e" stroke-width="1.45" fill="none" />
<path d="M42.40,453.30 L42.90,453.29 L43.39,453.26 L43.89,453.21 L44.39,453.14 L44.89,453.06 L45.38,452.95 L45.88,452.83 L46.38,452.69 L46.88,452.54 L47.37,452.36 L47.87,452.17 L48.37,451.97 L48.87,451.75 L49.36,451.51 L49.86,451.26 L50.36,451.00 L50.86,450.72 L51.35,450.43 L51.85,450.13 L52.35,449.81 L52.85,449.48 L53.34,449.14 L53.84,448.78 L54.34,448.42 L54.84,448.04 L55.33,447.65 L55.83,447.26 L56.33,446.85 L56.83,446.43 L57.32,446.01 L57.82,445.58 L58.32,445.13 L58.82,444.68 L59.31,444.23 L59.81,443.76 L60.31,443.29 L60.81,442.81 L61.30,442.33 L61.80,441.84 L62.30,441.34 L62.80,440.84 L63.29,440.33 L63.79,439.82 L64.29,439.31 L64.79,438.79 L65.28,438.27 L65.78,437.74 L66.28,437.21 L66.78,436.68 L67.27,436.15 L67.77,435.61 L68.27,435.08 L68.77,434.54 L69.26,434.00 L69.76,433.46 L70.26,432.92 L70.76,432.38 L71.25,431.84 L71.75,431.30 L72.25,430.76 L72.75,430.22 L73.24,429.68 L73.74,429.15 L74.24,428.61 L74.74,428.08 L75.23,427.55 L75.73,427.02 L76.23,426.49 L76.73,425.97 L77.22,425.45 L77.72,424.94 L78.22,424.43 L78.72,423.92 L79.21,423.41 L79.71,422.91 L80.21,422.42 L80.71,421.92 L81.20,421.44 L81.70,420.96 L82.20,420.48 L82.70,420.01 L83.19,419.54 L83.69,419.08 L84.19,418.63 L84.69,418.18 L85.18,417.74 L85.68,417.31 L86.18,416.88 L86.68,416.45 L87.17,416.04 L87.67,415.63 L88.17,415.23 L88.67,414.83 L89.16,414.45 L89.66,414.07 L90.16,413.70 L90.66,413.33 L91.15,412.97 L91.65,412.63 L92.15,412.28 L92.65,411.95 L93.14,411.63 L93.64,411.31 L94.14,411.00 L94.64,410.70 L95.13,410.41 L95.63,410.13 L96.13,409.85 L96.63,409.59 L97.12,409.33 L97.62,409.08 L98.12,408.84 L98.62,408.61 L99.11,408.39 L99.61,408.17 L100.11,407.97 L100.61,407.77 L101.10,407.58 L101.60,407.41 L102.10,407.24 L102.60,407.08 L103.09,406.92 L103.59,406.78 L104.09,406.65 L104.59,406.52 L105.08,406.41 L105.58,406.30 L106.08,406.20 L106.58,406.11 L107.07,406.03 L107.57,405.96 L108.07,405.90 L108.57,405.85 L109.06,405.80 L109.56,405.77 L110.06,405.74 L110.56,405.72 L111.05,405.71 L111.55,405.71 L112.05,405.71 L112.55,405.73 L113.04,405.75 L113.54,405.78 L114.04,405.82 L114.54,405.87 L115.03,405.93 L115.53,405.99 L116.03,406.07 L116.53,406.15 L117.02,406.23 L117.52,406.33 L118.02,406.43 L118.52,406.54 L119.01,406.66 L119.51,406.79 L120.01,406.92 L120.51,407.06 L121.00,407.21 L121.50,407.36 L122.00,407.53 L122.50,407.69 L122.99,407.87 L123.49,408.05 L123.99,408.24 L124.49,408.43 L124.98,408.64 L125.48,408.84 L125.98,409.06 L126.48,409.28 L126.97,409.50 L127.47,409.73 L127.97,409.97 L128.47,410.21 L128.96,410.46 L129.46,410.71 L129.96,410.97 L130.46,411.23 L130.95,411.50 L131.45,411.78 L131.95,412.06 L132.45,412.34 L132.94,412.63 L133.44,412.92 L133.94,413.21 L134.44,413.51 L134.93,413.82 L135.43,414.13 L135.93,414.44 L136.43,414.76 L136.92,415.08 L137.42,415.40 L137.92,415.73 L138.42,416.06 L138.91,416.39 L139.41,416.72 L139.91,417.06 L140.41,417.40 L140.90,417.75 L141.40,418.10 L141.90,418.44 L142.40,418.80 L142.89,419.15 L143.39,419.51 L143.89,419.86 L144.39,420.22 L144.88,420.58 L145.38,420.95 L145.88,421.31 L146.38,421.68 L146.87,422.04 L147.37,422.41 L147.87,422.78 L148.37,423.15 L148.86,423.52 L149.36,423.89 L149.86,424.26 L150.36,424.63 L150.85,425.01 L151.35,425.38 L151.85,425.75 L152.35,426.13 L152.84,426.50 L153.34,426.87 L153.84,427.25 L154.34,427.62 L154.83,427.99 L155.33,428.36 L155.83,428.73 L156.33,429.10 L156.82,429.47 L157.32,429.84 L157.82,430.21 L158.32,430.58 L158.81,430.94 L159.31,431.30 L159.81,431.67 L160.31,432.03 L160.80,432.39 L161.30,432.75 L161.80,433.10 L162.30,433.46 L162.79,433.81 L163.29,434.16 L163.79,434.51 L164.29,434.86 L164.78,435.20 L165.28,435.54 L165.78,435.88 L166.28,436.22 L166.77,436.56 L167.27,436.89 L167.77,437.22 L168.27,437.55 L168.76,437.88 L169.26,438.20 L169.76,438.52 L170.26,438.84 L170.75,439.15 L171.25,439.46 L171.75,439.77 L172.25,440.08 L172.74,440.38 L173.24,440.68 L173.74,440.97 L174.24,441.27 L174.73,441.56 L175.23,441.84 L175.73,442.13 L176.23,442.41 L176.72,442.68 L177.22,442.96 L177.72,443.23 L178.22,443.49 L178.71,443.76 L179.21,444.02 L179.71,444.27 L180.21,444.52 L180.70,444.77 L181.20,445.02 L181.70,445.26 L182.20,445.50 L182.69,445.73 L183.19,445.96 L183.69,446.19 L184.19,446.41 L184.68,446.63 L185.18,446.84 L185.68,447.05 L186.18,447.26 L186.67,447.47 L187.17,447.67 L187.67,447.86 L188.17,448.06 L188.66,448.24 L189.16,448.43 L189.66,448.61 L190.16,448.79 L190.65,448.96 L191.15,449.13 L191.65,449.30 L192.15,449.46 L192.64,449.62 L193.14,449.77 L193.64,449.92 L194.14,450.07 L194.63,450.21 L195.13,450.35 L195.63,450.49 L196.13,450.62 L196.62,450.75 L197.12,450.88 L197.62,451.00 L198.12,451.12 L198.61,451.23 L199.11,451.34 L199.61,451.45 L200.11,451.55 L200.60,451.65 L201.10,451.75 L201.60,451.84 L202.10,451.93 L202.59,452.02 L203.09,452.10 L203.59,452.18 L204.09,452.26 L204.58,452.33 L205.08,452.40 L205.58,452.47 L206.08,452.53 L206.57,452.59 L207.07,452.65 L207.57,452.71 L208.07,452.76 L208.56,452.80 L209.06,452.85 L209.56,452.89 L210.06,452.93 L210.55,452.97 L211.05,453.00 L211.55,453.03 L212.05,453.06 L212.54,453.09 L213.04,453.11 L213.54,453.13 L214.04,453.15 L214.53,453.16 L215.03,453.17 L215.53,453.18 L216.03,453.19 L216.52,453.20 L217.02,453.20 L217.52,453.20 L218.02,453.20 L218.51,453.19 L219.01,453.19 L219.51,453.18 L220.01,453.17 L220.50,453.16 L221.00,453.14 L221.50,453.12 L222.00,453.11 L222.49,453.09 L222.99,453.06 L223.49,453.04 L223.99,453.01 L224.48,452.99 L224.98,452.96 L225.48,452.93 L225.98,452.89 L226.47,452.86 L226.97,452.82 L227.47,452.79 L227.97,452.75 L228.46,452.71 L228.96,452.67 L229.46,452.63 L229.96,452.58 L230.45,452.54 L230.95,452.49 L231.45,452.45 L231.95,452.40 L232.44,452.35 L232.94,452.30 L233.44,452.25 L233.94,452.20 L234.43,452.14 L234.93,452.09 L235.43,452.04 L235.93,451.98 L236.42,451.93 L236.92,451.87 L237.42,451.81 L237.92,451.76 L238.41,451.70 L238.91,451.64 L239.41,451.58 L239.91,451.52 L240.40,451.46 L240.90,451.40" stroke="#f08020" stroke-width="1.45" fill="none" />
<circle cx="42.4" cy="344.3" r="2.7" fill="#2070b5"/>
<circle cx="58.9" cy="354.7" r="2.7" fill="#2070b5"/>
<circle cx="74.3" cy="376.6" r="2.7" fill="#2070b5"/>
<circle cx="89.6" cy="402.6" r="2.7" fill="#2070b5"/>
<circle cx="106.2" cy="425.1" r="2.7" fill="#2070b5"/>
<circle cx="121.6" cy="441.7" r="2.7" fill="#2070b5"/>
<circle cx="138.1" cy="449.6" r="2.7" fill="#2070b5"/>
<circle cx="154.1" cy="451.5" r="2.7" fill="#2070b5"/>
<circle cx="169.9" cy="448.5" r="2.7" fill="#2070b5"/>
<circle cx="186" cy="445.4" r="2.7" fill="#2070b5"/>
<circle cx="201.6" cy="441.8" r="2.7" fill="#2070b5"/>
<circle cx="217.7" cy="440.4" r="2.7" fill="#2070b5"/>
<circle cx="233.3" cy="440.8" r="2.7" fill="#2070b5"/>
<circle cx="42.4" cy="449.9" r="2.6" fill="#f08020"/>
<circle cx="58.9" cy="442.1" r="2.6" fill="#f08020"/>
<circle cx="74.3" cy="427.5" r="2.6" fill="#f08020"/>
<circle cx="89.6" cy="415.2" r="2.6" fill="#f08020"/>
<circle cx="106.2" cy="408.6" r="2.6" fill="#f08020"/>
<circle cx="121.6" cy="410.2" r="2.6" fill="#f08020"/>
<circle cx="138.1" cy="416.8" r="2.6" fill="#f08020"/>
<circle cx="154.1" cy="427.3" r="2.6" fill="#f08020"/>
<circle cx="169.9" cy="438" r="2.6" fill="#f08020"/>
<circle cx="186" cy="446" r="2.6" fill="#f08020"/>
<circle cx="201.6" cy="450.5" r="2.6" fill="#f08020"/>
<circle cx="217.7" cy="453.1" r="2.6" fill="#f08020"/>
<circle cx="233.3" cy="452.5" r="2.6" fill="#f08020"/>
<rect x="42.4" y="340.8" width="199.1" height="112.5" fill="none" stroke="#333" stroke-width="1.3"/>
<line x1="42.4" y1="430.8" x2="45.4" y2="430.8" stroke="#333" stroke-width="1" />
<line x1="241.5" y1="430.8" x2="238.5" y2="430.8" stroke="#333" stroke-width="1" />
<line x1="42.4" y1="408.3" x2="45.4" y2="408.3" stroke="#333" stroke-width="1" />
<line x1="241.5" y1="408.3" x2="238.5" y2="408.3" stroke="#333" stroke-width="1" />
<line x1="42.4" y1="385.8" x2="45.4" y2="385.8" stroke="#333" stroke-width="1" />
<line x1="241.5" y1="385.8" x2="238.5" y2="385.8" stroke="#333" stroke-width="1" />
<line x1="42.4" y1="363.3" x2="45.4" y2="363.3" stroke="#333" stroke-width="1" />
<line x1="241.5" y1="363.3" x2="238.5" y2="363.3" stroke="#333" stroke-width="1" />
<line x1="82.1" y1="453.3" x2="82.1" y2="450.3" stroke="#333" stroke-width="1" />
<line x1="82.1" y1="340.8" x2="82.1" y2="343.8" stroke="#333" stroke-width="1" />
<line x1="121.80000000000001" y1="453.3" x2="121.80000000000001" y2="450.3" stroke="#333" stroke-width="1" />
<line x1="121.80000000000001" y1="340.8" x2="121.80000000000001" y2="343.8" stroke="#333" stroke-width="1" />
<line x1="161.5" y1="453.3" x2="161.5" y2="450.3" stroke="#333" stroke-width="1" />
<line x1="161.5" y1="340.8" x2="161.5" y2="343.8" stroke="#333" stroke-width="1" />
<line x1="201.20000000000002" y1="453.3" x2="201.20000000000002" y2="450.3" stroke="#333" stroke-width="1" />
<line x1="201.20000000000002" y1="340.8" x2="201.20000000000002" y2="343.8" stroke="#333" stroke-width="1" />
<text x="39.6" y="344.8" font-size="11" text-anchor="end" fill="#222" stroke="#222" stroke-width="0.25" font-weight="normal" >1</text>
<text x="40" y="367.3" font-size="11" text-anchor="end" fill="#222" stroke="#222" stroke-width="0.55" font-weight="normal" >0.8</text>
<text x="40" y="389.8" font-size="11" text-anchor="end" fill="#222" stroke="#222" stroke-width="0.55" font-weight="normal" >0.6</text>
<text x="40" y="412.3" font-size="11" text-anchor="end" fill="#222" stroke="#222" stroke-width="0.55" font-weight="normal" >0.4</text>
<text x="40" y="434.8" font-size="11" text-anchor="end" fill="#222" stroke="#222" stroke-width="0.55" font-weight="normal" >0.2</text>
<text x="40" y="457.3" font-size="11" text-anchor="end" fill="#222" stroke="#222" stroke-width="0.55" font-weight="normal" >0.0</text>
<text x="42.6" y="467.6" font-size="11" text-anchor="middle" fill="#222" stroke="#222" stroke-width="0.55" font-weight="normal" >0</text>
<text x="81.6" y="467.6" font-size="11" text-anchor="middle" fill="#222" stroke="#222" stroke-width="0.55" font-weight="normal" >2</text>
<text x="121.8" y="467.6" font-size="11" text-anchor="middle" fill="#222" stroke="#222" stroke-width="0.55" font-weight="normal" >4</text>
<text x="161.3" y="467.6" font-size="11" text-anchor="middle" fill="#222" stroke="#222" stroke-width="0.55" font-weight="normal" >6</text>
<text x="207.2" y="467.6" font-size="11" text-anchor="middle" fill="#222" stroke="#222" stroke-width="0.55" font-weight="normal" >8</text>
<text x="136.7" y="483.5" font-size="13" text-anchor="middle" fill="#222" stroke="#222" stroke-width="0.25" font-weight="normal" >L [μm]</text>
<text transform="translate(10.8,401.5) rotate(-90)" font-size="13" text-anchor="middle" fill="#222" stroke="#222" stroke-width="0.5">power at <tspan font-weight="bold" stroke-width="0.2">output</tspan></text>
<circle cx="186.2" cy="355.3" r="2.5" fill="#111"/>
<text x="197.3" y="359.3" font-size="13" text-anchor="start" fill="#222" stroke="#222" stroke-width="0.6" font-weight="normal" >FEM<tspan font-size="9" dy="2.5">i</tspan></text>
<line x1="178.7" y1="372.6" x2="193" y2="372.6" stroke="#222" stroke-width="1.3" />
<line x1="178.7" y1="375.6" x2="193" y2="375.6" stroke="#222" stroke-width="1.1" stroke-dasharray="2,0.8"/>
<text x="197" y="378" font-size="13" text-anchor="start" fill="#222" stroke="#222" stroke-width="0.6" font-weight="normal" >CMT<tspan font-size="8.5" font-weight="bold" dy="2.5">s</tspan></text>
<text x="302.2" y="335" font-size="13" text-anchor="start" fill="#222" stroke="#222" stroke-width="0.25" font-weight="normal" >(e)</text>
<text x="461.2" y="332.5" font-size="13.3" text-anchor="middle" fill="#222" stroke="#222" stroke-width="0.25" font-weight="normal" >adiabatic coupler</text>
<path d="M304.00,342.40 C304.25,343.22 304.73,344.63 305.50,347.30 C306.27,349.97 307.57,355.52 308.60,358.40 C309.63,361.28 310.57,363.12 311.70,364.60 C312.83,366.08 314.27,367.52 315.40,367.30 C316.53,367.08 317.37,364.82 318.50,363.30 C319.63,361.78 321.07,358.60 322.20,358.20 C323.33,357.80 324.28,358.20 325.30,360.90 C326.32,363.60 327.28,370.30 328.30,374.40 C329.32,378.50 330.17,382.73 331.40,385.50 C332.63,388.27 333.95,391.00 335.70,391.00 C337.45,391.00 340.38,386.10 341.90,385.50 C343.42,384.90 343.70,385.23 344.80,387.40 C345.90,389.57 347.27,395.12 348.50,398.50 C349.73,401.88 350.57,405.35 352.20,407.70 C353.83,410.05 356.25,412.08 358.30,412.60 C360.35,413.12 362.85,410.68 364.50,410.80 C366.15,410.92 366.77,411.65 368.20,413.30 C369.63,414.95 371.47,418.25 373.10,420.70 C374.73,423.15 376.57,426.67 378.00,428.00 C379.43,429.33 380.25,428.63 381.70,428.70 C383.15,428.77 384.73,427.25 386.70,428.40 C388.67,429.55 391.25,433.73 393.50,435.60 C395.75,437.47 397.97,438.48 400.20,439.60 C402.43,440.72 404.43,441.62 406.90,442.30 C409.37,442.98 411.85,442.80 415.00,443.70 C418.15,444.60 421.32,446.58 425.80,447.70 C430.28,448.82 436.07,449.60 441.90,450.40 C447.73,451.20 453.17,451.92 460.80,452.50 C468.43,453.08 479.33,453.62 487.70,453.90 C496.07,454.18 507.12,454.15 511.00,454.20" stroke="#1a629e" stroke-width="1.5" fill="none" />
<path d="M304.00,451.60 C304.40,450.65 305.32,448.22 306.40,445.90 C307.48,443.58 309.27,439.35 310.50,437.70 C311.73,436.05 312.55,435.73 313.80,436.00 C315.05,436.27 316.63,437.78 318.00,439.30 C319.37,440.82 320.78,444.55 322.00,445.10 C323.22,445.65 324.20,444.67 325.30,442.60 C326.40,440.53 327.37,435.12 328.60,432.70 C329.83,430.28 331.18,428.50 332.70,428.10 C334.22,427.70 336.05,429.38 337.70,430.30 C339.35,431.22 340.97,433.88 342.60,433.60 C344.23,433.32 345.70,430.13 347.50,428.60 C349.30,427.07 351.38,425.00 353.40,424.40 C355.42,423.80 357.95,424.50 359.60,425.00 C361.25,425.50 361.87,427.30 363.30,427.40 C364.73,427.50 366.57,426.22 368.20,425.60 C369.83,424.98 371.25,424.02 373.10,423.70 C374.95,423.38 377.45,423.48 379.30,423.70 C381.15,423.92 381.83,424.95 384.20,425.00 C386.57,425.05 389.72,423.80 393.50,424.00 C397.28,424.20 400.18,424.95 406.90,426.20 C413.62,427.45 424.82,429.62 433.80,431.50 C442.78,433.38 451.82,435.60 460.80,437.50 C469.78,439.40 479.33,441.28 487.70,442.90 C496.07,444.52 507.12,446.48 511.00,447.20" stroke="#f08020" stroke-width="1.5" fill="none" />
<circle cx="304.9" cy="346.7" r="2.5" fill="#2070b5"/>
<circle cx="311.1" cy="361.2" r="2.5" fill="#2070b5"/>
<circle cx="316" cy="366.4" r="2.5" fill="#2070b5"/>
<circle cx="321.9" cy="362.7" r="2.5" fill="#2070b5"/>
<circle cx="327.4" cy="372.6" r="2.5" fill="#2070b5"/>
<circle cx="332.3" cy="387.4" r="2.5" fill="#2070b5"/>
<circle cx="337" cy="391.7" r="2.5" fill="#2070b5"/>
<circle cx="342.5" cy="390.1" r="2.5" fill="#2070b5"/>
<circle cx="347.2" cy="397.2" r="2.5" fill="#2070b5"/>
<circle cx="352.8" cy="408.3" r="2.5" fill="#2070b5"/>
<circle cx="358.3" cy="413.3" r="2.5" fill="#2070b5"/>
<circle cx="363.3" cy="413.3" r="2.5" fill="#2070b5"/>
<circle cx="368.8" cy="417" r="2.5" fill="#2070b5"/>
<circle cx="373.7" cy="423.1" r="2.5" fill="#2070b5"/>
<circle cx="379.3" cy="429.9" r="2.5" fill="#2070b5"/>
<circle cx="305.6" cy="449.2" r="2.4" fill="#f08020"/>
<circle cx="311.4" cy="438.5" r="2.4" fill="#f08020"/>
<circle cx="316.3" cy="438.5" r="2.4" fill="#f08020"/>
<circle cx="322" cy="443.4" r="2.4" fill="#f08020"/>
<circle cx="327" cy="436" r="2.4" fill="#f08020"/>
<circle cx="332.4" cy="428.6" r="2.4" fill="#f08020"/>
<circle cx="336.9" cy="430.3" r="2.4" fill="#f08020"/>
<circle cx="341.8" cy="433.6" r="2.4" fill="#f08020"/>
<circle cx="347.2" cy="428.6" r="2.4" fill="#f08020"/>
<circle cx="352.8" cy="424.4" r="2.4" fill="#f08020"/>
<circle cx="357.7" cy="425.6" r="2.4" fill="#f08020"/>
<circle cx="363.3" cy="427.4" r="2.4" fill="#f08020"/>
<circle cx="368.2" cy="425.6" r="2.4" fill="#f08020"/>
<circle cx="373.1" cy="424.4" r="2.4" fill="#f08020"/>
<circle cx="378" cy="423.1" r="2.4" fill="#f08020"/>
<rect x="304" y="340.4" width="208" height="113.90000000000003" fill="none" stroke="#333" stroke-width="1.3"/>
<line x1="304" y1="431.48" x2="307" y2="431.48" stroke="#333" stroke-width="1" />
<line x1="512" y1="431.48" x2="509" y2="431.48" stroke="#333" stroke-width="1" />
<line x1="304" y1="408.66" x2="307" y2="408.66" stroke="#333" stroke-width="1" />
<line x1="512" y1="408.66" x2="509" y2="408.66" stroke="#333" stroke-width="1" />
<line x1="304" y1="385.84000000000003" x2="307" y2="385.84000000000003" stroke="#333" stroke-width="1" />
<line x1="512" y1="385.84000000000003" x2="509" y2="385.84000000000003" stroke="#333" stroke-width="1" />
<line x1="304" y1="363.02" x2="307" y2="363.02" stroke="#333" stroke-width="1" />
<line x1="512" y1="363.02" x2="509" y2="363.02" stroke="#333" stroke-width="1" />
<line x1="356.0" y1="454.3" x2="356.0" y2="451.3" stroke="#333" stroke-width="1" />
<line x1="356.0" y1="340.4" x2="356.0" y2="343.4" stroke="#333" stroke-width="1" />
<line x1="408.0" y1="454.3" x2="408.0" y2="451.3" stroke="#333" stroke-width="1" />
<line x1="408.0" y1="340.4" x2="408.0" y2="343.4" stroke="#333" stroke-width="1" />
<line x1="460.0" y1="454.3" x2="460.0" y2="451.3" stroke="#333" stroke-width="1" />
<line x1="460.0" y1="340.4" x2="460.0" y2="343.4" stroke="#333" stroke-width="1" />
<text x="301.5" y="344.8" font-size="11" text-anchor="end" fill="#222" stroke="#222" stroke-width="0.25" font-weight="normal" >1</text>
<text x="301.5" y="367.02" font-size="11" text-anchor="end" fill="#222" stroke="#222" stroke-width="0.55" font-weight="normal" >0.8</text>
<text x="301.5" y="389.84000000000003" font-size="11" text-anchor="end" fill="#222" stroke="#222" stroke-width="0.55" font-weight="normal" >0.6</text>
<text x="301.5" y="412.66" font-size="11" text-anchor="end" fill="#222" stroke="#222" stroke-width="0.55" font-weight="normal" >0.4</text>
<text x="301.5" y="435.48" font-size="11" text-anchor="end" fill="#222" stroke="#222" stroke-width="0.55" font-weight="normal" >0.2</text>
<text x="301.5" y="458.3" font-size="11" text-anchor="end" fill="#222" stroke="#222" stroke-width="0.55" font-weight="normal" >0.0</text>
<text x="302.0" y="469.6" font-size="11" text-anchor="middle" fill="#222" stroke="#222" stroke-width="0.55" font-weight="normal" >0</text>
<text x="356.0" y="469.6" font-size="11" text-anchor="middle" fill="#222" stroke="#222" stroke-width="0.55" font-weight="normal" >10</text>
<text x="408.0" y="469.6" font-size="11" text-anchor="middle" fill="#222" stroke="#222" stroke-width="0.55" font-weight="normal" >20</text>
<text x="460.0" y="469.6" font-size="11" text-anchor="middle" fill="#222" stroke="#222" stroke-width="0.55" font-weight="normal" >30</text>
<text x="512.0" y="469.6" font-size="11" text-anchor="middle" fill="#222" stroke="#222" stroke-width="0.55" font-weight="normal" >40</text>
<text x="415" y="483.7" font-size="13" text-anchor="middle" fill="#222" stroke="#222" stroke-width="0.25" font-weight="normal" >L [μm]</text>
<text transform="translate(276,403.4) rotate(-90)" font-size="13" text-anchor="middle" fill="#222" stroke="#222" stroke-width="0.5">power at <tspan font-weight="bold" stroke-width="0.2">output</tspan></text>
<text x="370.5" y="368.1" font-size="9.6" text-anchor="middle" fill="#222" stroke="#222" stroke-width="0.25" font-weight="normal" >out of RAM</text>
<text x="370.5" y="380.9" font-size="9.6" text-anchor="middle" fill="#222" stroke="#222" stroke-width="0.25" font-weight="normal" >(capped</text>
<text x="370.5" y="393.6" font-size="9.6" text-anchor="middle" fill="#222" stroke="#222" stroke-width="0.25" font-weight="normal" >@256GB)</text>
<line x1="372.3" y1="398.5" x2="377.37318383888413" y2="416.6185137103005" stroke="#222" stroke-width="1.6" />
<polygon points="378.60,421.00 374.20,415.48 379.50,414.00" fill="#222"/>
<line x1="403.5" y1="414.2" x2="387.07121993614595" y2="420.23182263213965" stroke="#222" stroke-width="1.6" />
<polygon points="382.80,421.80 387.95,416.98 389.85,422.14" fill="#222"/>
<rect x="417.5" y="352.8" width="78.80000000000001" height="60.69999999999999" fill="#fff" stroke="#333" stroke-width="1.3"/>
<path d="M417.50,353.20 C418.00,353.75 419.32,355.22 420.50,356.50 C421.68,357.78 423.18,360.72 424.60,360.90 C426.02,361.08 427.43,358.32 429.00,357.60 C430.57,356.88 432.42,356.12 434.00,356.60 C435.58,357.08 437.07,359.43 438.50,360.50 C439.93,361.57 441.22,362.92 442.60,363.00 C443.98,363.08 445.40,361.53 446.80,361.00 C448.20,360.47 449.63,359.63 451.00,359.80 C452.37,359.97 453.75,361.17 455.00,362.00 C456.25,362.83 457.17,364.13 458.50,364.80 C459.83,365.47 461.58,365.80 463.00,366.00 C464.42,366.20 465.58,365.97 467.00,366.00 C468.42,366.03 470.10,366.00 471.50,366.20 C472.90,366.40 473.98,366.57 475.40,367.20 C476.82,367.83 478.40,368.53 480.00,370.00 C481.60,371.47 483.33,373.33 485.00,376.00 C486.67,378.67 488.43,382.58 490.00,386.00 C491.57,389.42 493.40,394.42 494.40,396.50 C495.40,398.58 495.73,398.17 496.00,398.50" stroke="#1a629e" stroke-width="1.7" fill="none" />
<path d="M417.50,353.20 C418.00,353.75 419.32,355.22 420.50,356.50 C421.68,357.78 423.18,360.72 424.60,360.90 C426.02,361.08 427.43,358.32 429.00,357.60 C430.57,356.88 432.42,356.12 434.00,356.60 C435.58,357.08 437.07,359.43 438.50,360.50 C439.93,361.57 441.22,362.92 442.60,363.00 C443.98,363.08 445.40,361.53 446.80,361.00 C448.20,360.47 449.63,359.63 451.00,359.80 C452.37,359.97 453.75,361.08 455.00,362.00 C456.25,362.92 457.17,364.44 458.50,365.29 C459.83,366.14 461.58,366.72 463.00,367.12 C464.42,367.52 465.58,367.45 467.00,367.68 C468.42,367.91 470.10,368.11 471.50,368.51 C472.90,368.91 473.98,369.26 475.40,370.06 C476.82,370.85 478.40,371.76 480.00,373.30 C481.60,374.84 483.33,376.63 485.00,379.30 C486.67,381.97 488.43,385.88 490.00,389.30 C491.57,392.72 493.40,397.72 494.40,399.80 C495.40,401.88 495.73,401.47 496.00,401.80" stroke="#1a629e" stroke-width="1.4" fill="none" stroke-dasharray="1.5,1.5"/>
<path d="M417.50,412.50 C418.00,411.92 419.32,410.03 420.50,409.00 C421.68,407.97 423.27,406.30 424.60,406.30 C425.93,406.30 427.10,407.93 428.50,409.00 C429.90,410.07 431.58,412.62 433.00,412.70 C434.42,412.78 435.75,410.57 437.00,409.50 C438.25,408.43 439.17,406.30 440.50,406.30 C441.83,406.30 443.42,408.37 445.00,409.50 C446.58,410.63 448.00,412.93 450.00,413.10 C452.00,413.27 454.53,411.27 457.00,410.50 C459.47,409.73 462.08,408.67 464.80,408.50 C467.52,408.33 470.77,409.67 473.30,409.50 C475.83,409.33 477.72,408.58 480.00,407.50 C482.28,406.42 484.60,404.50 487.00,403.00 C489.40,401.50 492.90,399.33 494.40,398.50 C495.90,397.67 495.73,398.08 496.00,398.00" stroke="#f08020" stroke-width="1.7" fill="none" />
<path d="M417.50,413.70 C418.00,413.12 419.32,411.23 420.50,410.20 C421.68,409.17 423.27,407.50 424.60,407.50 C425.93,407.50 427.10,409.13 428.50,410.20 C429.90,411.27 431.58,413.82 433.00,413.90 C434.42,413.98 435.75,411.77 437.00,410.70 C438.25,409.63 439.17,407.50 440.50,407.50 C441.83,407.50 443.42,409.57 445.00,410.70 C446.58,411.83 448.00,414.13 450.00,414.30 C452.00,414.47 454.53,412.47 457.00,411.70 C459.47,410.93 462.08,409.87 464.80,409.70 C467.52,409.53 470.77,410.87 473.30,410.70 C475.83,410.53 477.72,409.78 480.00,408.70 C482.28,407.62 484.60,405.70 487.00,404.20 C489.40,402.70 492.90,400.53 494.40,399.70 C495.90,398.87 495.73,399.28 496.00,399.20" stroke="#f08020" stroke-width="1.2" fill="none" stroke-dasharray="1.5,1.5"/>
<text x="413.2" y="357.2" font-size="10" text-anchor="end" fill="#222" stroke="#222" stroke-width="0.5" font-weight="normal" >1</text>
<text x="413.6" y="418.4" font-size="10.5" text-anchor="end" fill="#222" stroke="#222" stroke-width="0.5" font-weight="normal" >0</text>
<text x="417.5" y="423.5" font-size="10.5" text-anchor="middle" fill="#222" stroke="#222" stroke-width="0.5" font-weight="normal" >0</text>
<text x="457.4" y="423.5" font-size="10.5" text-anchor="middle" fill="#222" stroke="#222" stroke-width="0.5" font-weight="normal" >z [μm]</text>
<text x="494" y="423.2" font-size="10" text-anchor="middle" fill="#222" stroke="#222" stroke-width="0.5" font-weight="normal" >13.8</text>
<text transform="translate(406.8,385.2) rotate(-90)" font-size="9.3" font-weight="bold" text-anchor="middle" fill="#222" stroke="#222" stroke-width="0.3">power inside</text>
<text x="450.5" y="385.4" font-size="10" text-anchor="middle" fill="#222" stroke="#222" stroke-width="0.45" font-weight="normal" >L = 13.8μm</text>
</svg></body></html>
